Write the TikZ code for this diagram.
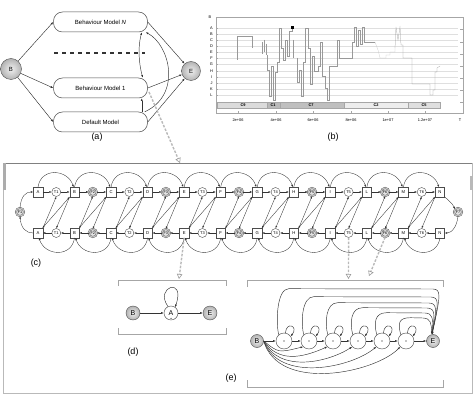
\documentclass[tikz,border=0pt]{standalone}
\usepackage{fontspec}
\setmainfont{Liberation Sans}
\usetikzlibrary{arrows.meta,calc}
\newcommand\fsz[1]{\fontsize{#1}{#1}\selectfont}
\begin{document}
\begin{tikzpicture}[x=1pt,y=-1pt,
  arr/.style={-{Latex[length=2.6pt,width=2pt]}, line width=0.45pt, black!80},
  arrs/.style={-{Latex[length=2.3pt,width=1.9pt]}, line width=0.35pt, black!80},
  darr/.style={{Latex[length=2.3pt,width=1.9pt]}-{Latex[length=2.3pt,width=1.9pt]}, line width=0.35pt, black!80},
  ball/.style={circle, draw=black!70, line width=0.4pt, inner color=gray!12, outer color=gray!60, inner sep=0pt, minimum size=#1},
  box/.style={draw=black!70, rounded corners=9pt, minimum width=94pt, minimum height=20pt, font=\fsz{6}, line width=0.5pt, fill=white},
  sq/.style={draw=black!70, fill=white, minimum size=9.5pt, inner sep=0pt, font=\fsz{4.2}, line width=0.4pt},
  sc/.style={circle, draw=black!70, fill=white, minimum size=9pt, inner sep=0pt, font=\fsz{4}, line width=0.4pt},
  dc/.style={circle, draw=black!70, line width=0.35pt, double=gray!45, double distance=1.1pt, fill=gray!22, minimum size=8.2pt, inner sep=0pt, font=\fsz{3.8}},
  wc/.style={circle, draw=black!70, fill=white, line width=0.45pt, inner sep=0pt, minimum size=#1},
  dashconn/.style={gray!55, line width=1.4pt, dash pattern=on 2.5pt off 1.5pt, -{Triangle[open,length=5pt,width=5.5pt,line width=0.6pt,color=gray!80]}},
  brk/.style={gray!70, line width=0.6pt},
  plab/.style={font=\fsz{9}},
  tlab/.style={font=\fsz{3.9}},
  trace/.style={black!40, line width=0.25pt}
]
\useasboundingbox (0,0) rectangle (474,406);

% ---------------- (a) ----------------
\node[ball=21pt, font=\fsz{6}] (aB) at (11,69) {B};
\node[ball=19pt, font=\fsz{6}] (aE) at (191,71) {E};
\node[box] (mN) at (100.5,22) {Behaviour Model \textit{N}};
\node[box] (m1) at (100.5,88) {Behaviour Model 1};
\node[box] (m0) at (100.5,122) {Default Model};
\draw[black!80, line width=1.5pt, dash pattern=on 4pt off 4pt] (54,53) -- (145,53);
\draw[arr] (aB) -- (mN.west);
\draw[arr] (aB) -- (m1.west);
\draw[arr] (aB) -- (m0.west);
\draw[arr] (mN.east) -- (aE);
\draw[arr] (m1.east) -- (aE);
\draw[arr] (m0.east) -- (aE);
\draw[{Latex[length=2.6pt,width=2pt]}-{Latex[length=2.6pt,width=2pt]}, line width=0.45pt, black!80]
  ([xshift=-6pt]mN.south east) .. controls +(-4,15) and +(-4,-15) .. ([xshift=-5pt]m1.north east);
\draw[arr] ([xshift=-6pt]m0.north east) -- ([xshift=-6pt]m1.south east);
\draw[arr] ([xshift=-3pt]m0.north east) .. controls (182,95) and (170,45) .. ([xshift=-2pt]mN.south east);
\node[plab] (la) at (97,137) {(a)};
\coordinate (dS) at (149,92);

% ---------------- (b) ----------------
\draw[gray!70, line width=0.4pt] (216,17) rectangle (463,113);
\node[tlab] (bh) at (210,17) {B};
\foreach \l [count=\k from 0] in {A,B,C,D,E,F,G,H,I,J,K,L}{
  \pgfmathsetmacro\yy{28+\k*6.1}
  \draw[gray!25, line width=0.25pt] (218,\yy) -- (458,\yy);
  \node[tlab] at (211.5,\yy) {\l};
  \draw[gray!70, line width=0.3pt] (216,\yy) -- (218,\yy);
}
\foreach \yy in {29,42,54,66,78,90,102}{
  \draw[gray!70, line width=0.3pt] (460,\yy) -- (462.5,\yy);
}
\foreach \xx/\t in {238/2e+06,276/4e+06,313/6e+06,351/8e+06,388/1e+07,425/1.2e+07}{
  \node[tlab] at (\xx,120) {\t};
  \draw[gray!70, line width=0.3pt] (\xx,113) -- (\xx,111);
}
\node[tlab] at (460,120) {T};
% bar
\draw[gray!70, line width=0.3pt, fill=gray!28] (217,102) rectangle (267,108);
\draw[gray!70, line width=0.3pt, fill=gray!55] (267,102) rectangle (280,108);
\draw[gray!70, line width=0.3pt, fill=gray!50] (280,102) rectangle (344,108);
\draw[gray!70, line width=0.3pt, fill=gray!14] (344,102) rectangle (408,108);
\draw[gray!70, line width=0.3pt, fill=gray!25] (408,102) rectangle (440,108);
\foreach \xx/\t in {243/C9,273/C1,311/C7,376/C2,424/C5}{
  \node[tlab, font=\fsz{3.9}\bfseries] at (\xx,105) {\t};
}
% trace
\draw[trace] (237,60) -- (237,36) -- (252,36) -- (252,48);
\draw[trace] (262,42) -- (262,54) (264,40) -- (264,52) (266,44) -- (266,55);
\draw[trace] (267,55) -- (267,70) -- (269,70) -- (269,96) -- (271,96) -- (271,66) -- (273,66) -- (273,100) -- (275,100) -- (275,72) -- (277,72) -- (277,62) -- (279,62) -- (279,28) -- (281,28) -- (281,48) -- (283,48) -- (283,60) -- (285,60) -- (285,40) -- (287,40) -- (287,56) -- (289,56) -- (289,31) -- (292,31) -- (292,28);
\fill[black] (290.5,26.5) rectangle (293.5,29.5);
\draw[trace] (293,40) -- (293,58);
\draw[trace] (297,58) -- (297,82) -- (299,82) -- (299,70) -- (301,70) -- (301,96) -- (303,96) -- (303,62) -- (305,62) -- (305,28) -- (308,28) -- (308,48) -- (310,48) -- (310,84) -- (312,84) -- (312,56) -- (314,56) -- (314,71) -- (318,71) -- (318,66) -- (320,66) -- (320,42) -- (322,42) -- (322,76) -- (325,76) -- (325,88) -- (327,88) -- (327,100) -- (329,100) -- (329,66) -- (337,66) -- (337,40) -- (339,40) -- (339,58) -- (352,58) -- (352,42) -- (354,42) -- (354,27) -- (356,27) -- (356,46) -- (358,46) -- (358,30) -- (360,30) -- (360,44) -- (362,44) -- (362,27) -- (364,27) -- (364,42) -- (375,42);
\draw[trace, black!22] (375,42) -- (378,50) -- (380,58) -- (386,58) -- (386,55) -- (390,55) -- (390,52) -- (395,52) -- (395,48);
\draw[trace] (395,48) -- (396,27) -- (398,40) -- (400,27) -- (401,45) -- (403,45) -- (403,58) -- (412,58) -- (412,84) -- (430,84) -- (430,95) -- (433,95) -- (433,90) -- (435,90) -- (435,72) -- (437,72) -- (437,68) -- (440,66);
\node[plab] (lb) at (333,137) {(b)};

% ---------------- (c) frame ----------------
\draw[gray!55, line width=0.6pt] (3,163) rectangle (472,393);
\draw[black!50, line width=0.7pt] (3,163) -- (472,163);
\draw[gray!65, line width=3pt] (4.5,163) -- (4.5,190);
\draw[gray!55, line width=2.5pt] (471,176) -- (471,190);
\coordinate (dT) at (180,163);
\draw[dashconn] (dS) -- (dT);

% chain nodes
\foreach \lab [count=\i from 0] in {A,T1,B,F2,C,T2,D,F3,E,T3,F,F4,G,T4,H,F5,I,T5,L,F6,M,T6,N}{
  \pgfmathsetmacro\xx{38+\i*18.27}
  \pgfmathtruncatemacro\m{mod(\i,4)}
  \ifnum\m=1 \tikzset{cur/.style={sc}}\else\ifnum\m=3 \tikzset{cur/.style={dc}}\else\tikzset{cur/.style={sq}}\fi\fi
  \node[cur] (t\i) at (\xx,192) {\lab};
  \node[cur] (b\i) at (\xx,233) {\lab};
}
\node[dc] (F1) at (20,212) {F1};
\node[dc] (F7) at (458,212) {F7};
\foreach \i in {0,...,21}{
  \pgfmathtruncatemacro\j{\i+1}
  \draw[arrs] (t\i) -- (t\j);
  \draw[arrs] (b\j) -- (b\i);
}
\foreach \k in {0,...,10}{
  \pgfmathtruncatemacro\a{2*\k}
  \pgfmathtruncatemacro\c{2*\k+1}
  \pgfmathtruncatemacro\bb{2*\k+2}
  \draw[arrs] (t\a.north) .. controls +(3,-20) and +(-6,-18) .. ([xshift=-1pt]t\bb.north);
  \draw[arrs] (b\bb.south) .. controls +(-3,20) and +(6,18) .. ([xshift=1pt]b\a.south);
  \draw[arrs] (b\a.north east) -- (t\c.south);
  \draw[darr] ([xshift=-0.5pt]b\a.north east) -- (t\bb.south west);
  \draw[arrs] (t\bb.south west) -- (b\c.north);
}
\draw[arrs] (F1.north) .. controls +(1,-12) and +(-7,0) .. (t0.west);
\draw[arrs] (b0.west) .. controls +(-7,0) and +(1,12) .. (F1.south);
\draw[arrs] (t22.south east) .. controls +(5,5) and +(-3,-6) .. (F7.north west);
\draw[arrs] (F7.south) .. controls +(-1,10) and +(7,0) .. (b22.east);
\node[plab] (lc) at (36,263) {(c)};

% dashed connectors to (d) and (e)
\coordinate (dD) at (179,279);
\coordinate (eD1) at (348.5,279);
\coordinate (eD2) at (369,276);
\draw[dashconn] (b8.south) -- (dD);
\draw[dashconn] (b17.south) -- (eD1);
\draw[dashconn] (b19.south) -- (eD2);

% ---------------- (d) ----------------
\draw[brk] (118,286) -- (118,280) -- (226,280) -- (226,286);
\draw[brk] (118,328) -- (118,334) -- (226,334) -- (226,328);
\node[ball=14pt, font=\fsz{7}] (dB) at (133,313) {B};
\node[wc=14pt, font=\fsz{7}] (dA) at (171,313) {\raisebox{0.8pt}{A}};
\fill[black] (171,318.3) circle (0.55pt);
\node[ball=14pt, font=\fsz{7}] (dE) at (210,313) {E};
\draw[arr] (dB) -- (dA);
\draw[arr] (dA) -- (dE);
\draw[arr] (dA.115) .. controls (154,287) and (186,276) .. (dA.55);
\node[plab] (ld) at (133,352) {(d)};
\node[plab] (le) at (231,378) {(e)};

% ---------------- (e) ----------------
\draw[brk] (247,287) -- (247,280) -- (443,280) -- (443,287);
\draw[brk] (247,380) -- (247,387) -- (443,387) -- (443,380);
\node[ball=13pt, font=\fsz{7}] (eB) at (257,341) {B};
\node[ball=13pt, font=\fsz{7}] (eE) at (433,341) {E};
\foreach \xx [count=\n] in {284,309,333,358,382,406}{
  \node[wc=16pt] (c\n) at (\xx,341) {};
  \fill[black] (\xx,341) circle (0.55pt);
}
\draw[arr] (eB) -- (c1);
\foreach \n in {1,...,5}{
  \pgfmathtruncatemacro\m{\n+1}
  \draw[arr] (c\n) -- (c\m);
}
\draw[arr] (c6) -- (eE);
% self loops
\foreach \n in {1,...,6}{
  \draw[arr] (c\n.80) .. controls +(1,-12) and +(8,-10) .. (c\n.35);
}
% arcs to E
\foreach \n/\h/\rx in {1/288/441,2/296/439,3/302/437,4/307/435,5/312/433,6/317/431}{
  \draw[arr] (c\n.130) .. controls +(-3,-12) and +(-12,0) .. ($(c\n.130)+(10,\h-334)$) -- (\rx-8,\h+1) .. controls (\rx,\h+1.5) and (\rx,\h+6) .. ([xshift=-1pt]eE.north);
}
% arcs from B below
\foreach \n/\d in {2/12,3/22,4/32,5/42,6/52}{
  \draw[arr] (eB.east) .. controls +(15,\d) and +(-25,\d/2) .. (c\n.225);
}
\end{tikzpicture}
\end{document}
